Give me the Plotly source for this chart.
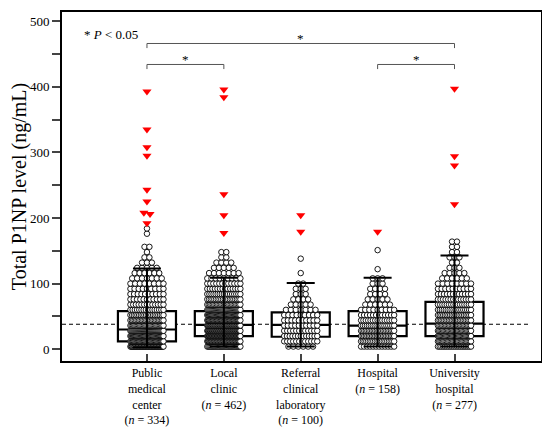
import numpy as np
import plotly.graph_objects as go

# category labels (x axis)
groups = ["Public<br>medical<br>center<br>(<i>n</i> = 334)",
          "Local<br>clinic<br>(<i>n</i> = 462)",
          "Referral<br>clinical<br>laboratory<br>(<i>n</i> = 100)",
          "Hospital<br>(<i>n</i> = 158)",
          "University<br>hospital<br>(<i>n</i> = 277)"]

# dot rows: level (ng/mL) and number of dots in that row
pub_levels = [4, 12, 20, 28, 36, 44, 52, 60, 68, 76, 84, 92, 100, 108, 116, 124, 132, 140, 148, 156, 176, 184]
pub_counts = [45, 40, 38, 35, 28, 24, 20, 16, 13, 11, 10, 9, 8, 7, 6, 5, 3, 2, 1, 2, 1, 1]

loc_levels = [4, 12, 20, 28, 36, 44, 52, 60, 68, 76, 84, 92, 100, 108, 116, 124, 132, 140, 148]
loc_counts = [30, 45, 55, 50, 48, 42, 38, 32, 25, 20, 17, 14, 12, 9, 7, 5, 4, 2, 2]

ref_levels = [4, 12, 20, 28, 36, 44, 52, 60, 68, 76, 84, 92, 100, 116, 138]
ref_counts = [6, 12, 13, 12, 10, 10, 9, 7, 5, 4, 3, 3, 2, 1, 1]

hos_levels = [4, 12, 20, 28, 36, 44, 52, 60, 68, 76, 84, 92, 100, 108, 122, 151]
hos_counts = [12, 20, 22, 22, 18, 15, 12, 9, 6, 5, 4, 4, 3, 3, 1, 1]

uni_levels = [4, 12, 20, 28, 36, 44, 52, 60, 68, 76, 84, 92, 100, 108, 116, 124, 132, 140, 148, 156, 164]
uni_counts = [20, 27, 29, 27, 25, 22, 20, 18, 16, 14, 12, 10, 8, 6, 5, 3, 2, 3, 2, 2, 2]

# extreme values (red triangles)
pub_extreme = [393, 335, 308, 295, 243, 225, 208, 206, 192]
loc_extreme = [396, 384, 236, 204, 177]
ref_extreme = [204, 179]
hos_extreme = [179]
uni_extreme = [397, 294, 280, 221]

# box statistics
q1 = [12, 20, 19, 20, 20]
median = [30, 37, 37, 36, 39]
q3 = [58, 58, 56, 58, 72]
whisk_lo = [3, 4, 4, 4, 4]
whisk_hi = [123, 109, 101, 109, 143]

ref_line = 38
brackets = [(0, 1, 434), (0, 4, 466), (3, 4, 434)]

levels = [pub_levels, loc_levels, ref_levels, hos_levels, uni_levels]
counts = [pub_counts, loc_counts, ref_counts, hos_counts, uni_counts]
extremes = [pub_extreme, loc_extreme, ref_extreme, hos_extreme, uni_extreme]


def swarm_x(center, keys, gap, max_half):
    keys = np.asarray(keys)
    xs = np.zeros(len(keys))
    for k in np.unique(keys):
        idx = np.where(keys == k)[0]
        n = len(idx)
        if n > 1:
            s = min(gap, 2 * max_half / (n - 1))
            xs[idx] = (np.arange(n) - (n - 1) / 2) * s
    return center + xs


fig = go.Figure()

# boxes sit under the dots
fig.add_trace(go.Box(x=list(range(5)), q1=q1, median=median, q3=q3,
                     lowerfence=q1, upperfence=q3, width=0.755, whiskerwidth=0,
                     fillcolor="white", line=dict(color="black", width=2.2),
                     boxpoints=False, showlegend=False, hoverinfo="skip"))

dot_x, dot_y, tri_x, tri_y = [], [], [], []
for i in range(5):
    vals = np.repeat(levels[i], counts[i])
    dot_x.extend(swarm_x(i, vals, 0.064, 0.215))
    dot_y.extend(vals)
    ev = np.array(extremes[i], dtype=float)
    tri_x.extend(swarm_x(i, np.round(ev / 10), 0.08, 0.24))
    tri_y.extend(ev)

fig.add_trace(go.Scatter(x=dot_x, y=dot_y, mode="markers", showlegend=False,
                         marker=dict(size=5.5, color="white",
                                     line=dict(color="black", width=0.9))))
fig.add_trace(go.Scatter(x=tri_x, y=tri_y, mode="markers", showlegend=False,
                         marker=dict(symbol="triangle-down", size=8, color="#ff0000")))

# whiskers through the box
fig.add_trace(go.Scatter(
    x=list(range(5)), y=median, mode="markers", showlegend=False,
    marker=dict(size=1, color="rgba(0,0,0,0)"),
    error_y=dict(type="data", symmetric=False,
                 array=[h - m for h, m in zip(whisk_hi, median)],
                 arrayminus=[m - l for m, l in zip(median, whisk_lo)],
                 width=14, thickness=2, color="black")))

# significance brackets
for a, b, h in brackets:
    fig.add_trace(go.Scatter(x=[a, a, b, b], y=[h - 7, h, h, h - 7], mode="lines",
                             line=dict(color="#555555", width=1), showlegend=False))
    fig.add_annotation(x=(a + b) / 2, y=h, text="*", showarrow=False,
                       yanchor="bottom", yshift=-5, font=dict(size=13, color="black"))

fig.add_shape(type="line", x0=-1.105, x1=4.98, y0=ref_line, y1=ref_line, layer="below",
              line=dict(color="black", width=1.2, dash="4px,3px"))

fig.add_annotation(x=0.042, y=0.963, xref="paper", yref="paper", xanchor="left",
                   text="* <i>P</i> < 0.05", showarrow=False, font=dict(size=13, color="black"))

# the page body adds an 8 px offset, so the figure is sized to fit the 550x429 window
fig.update_layout(
    width=542, height=421, autosize=False,
    margin=dict(l=54, r=9, t=4, b=68),
    plot_bgcolor="white", paper_bgcolor="white",
    font=dict(family="Liberation Serif", color="black"),
    xaxis=dict(range=[-1.105, 5.125], tickvals=list(range(5)), ticktext=groups,
               ticks="inside", ticklen=7, tickwidth=2, showline=True, linewidth=2,
               linecolor="black", mirror=True, showgrid=False, zeroline=False,
               tickfont=dict(size=12), automargin=False),
    yaxis=dict(range=[-18, 514], tickvals=[0, 100, 200, 300, 400, 500],
               ticks="outside", ticklen=8, tickwidth=2, showline=True, linewidth=2,
               linecolor="black", mirror=True, showgrid=False, zeroline=False,
               minor=dict(dtick=50, ticks="outside", ticklen=8, tickwidth=2),
               tickfont=dict(size=13), automargin=False,
               title=dict(text="Total P1NP level (ng/mL)", font=dict(size=20), standoff=8)),
)

fig.write_html("out.html")
